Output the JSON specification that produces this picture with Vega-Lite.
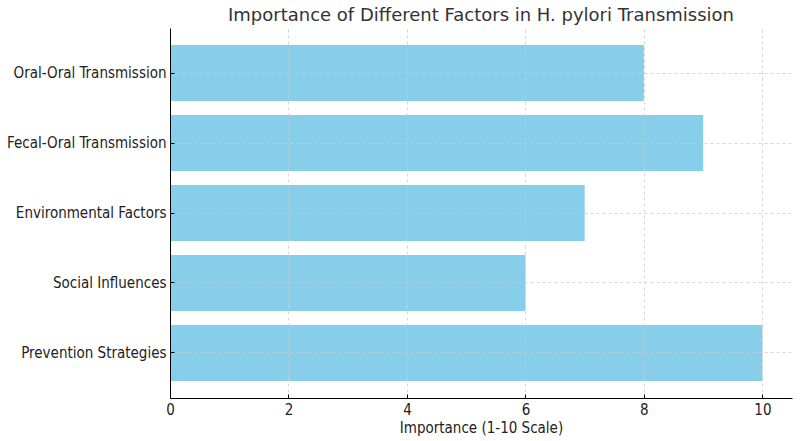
{
  "$schema": "https://vega.github.io/schema/vega-lite/v6.json",
  "width": 622,
  "height": 370,
  "autosize": {"type": "none"},
  "padding": {"left": 170, "top": 28, "right": 8, "bottom": 43},
  "title": {
    "text": "Importance of Different Factors in H. pylori Transmission",
    "font": "DejaVu Sans",
    "fontSize": 18,
    "fontWeight": "normal",
    "color": "#333333",
    "anchor": "middle",
    "offset": 3
  },
  "data": {
    "values": [
      {"factor": "Oral-Oral Transmission", "importance": 8},
      {"factor": "Fecal-Oral Transmission", "importance": 9},
      {"factor": "Environmental Factors", "importance": 7},
      {"factor": "Social Influences", "importance": 6},
      {"factor": "Prevention Strategies", "importance": 10}
    ]
  },
  "mark": {"type": "bar", "color": "#87CEEB"},
  "encoding": {
    "y": {
      "field": "factor",
      "type": "nominal",
      "sort": null,
      "title": null,
      "scale": {"paddingInner": 0.2, "paddingOuter": 0.243},
      "axis": {
        "bandPosition": 0.5,
        "grid": true,
        "zindex": 1
      }
    },
    "x": {
      "field": "importance",
      "type": "quantitative",
      "title": "Importance (1-10 Scale)",
      "scale": {"domain": [0, 10.5], "nice": false},
      "axis": {
        "values": [0, 2, 4, 6, 8, 10],
        "labelFlush": false,
        "grid": true,
        "zindex": 1
      }
    }
  },
  "config": {
    "view": {"stroke": null},
    "axis": {
      "labelFont": "DejaVu Sans Condensed",
      "titleFont": "DejaVu Sans Condensed",
      "labelFontSize": 15,
      "titleFontSize": 15,
      "titleFontWeight": "normal",
      "labelColor": "#222222",
      "titleColor": "#222222",
      "domainColor": "#000000",
      "domainWidth": 1,
      "tickColor": "#000000",
      "tickSize": -4,
      "labelPadding": 8,
      "gridColor": "#cccccc",
      "gridDash": [3, 3],
      "gridWidth": 0.8
    },
    "axisX": {"titlePadding": 3},
    "axisY": {"labelPadding": 8}
  }
}
